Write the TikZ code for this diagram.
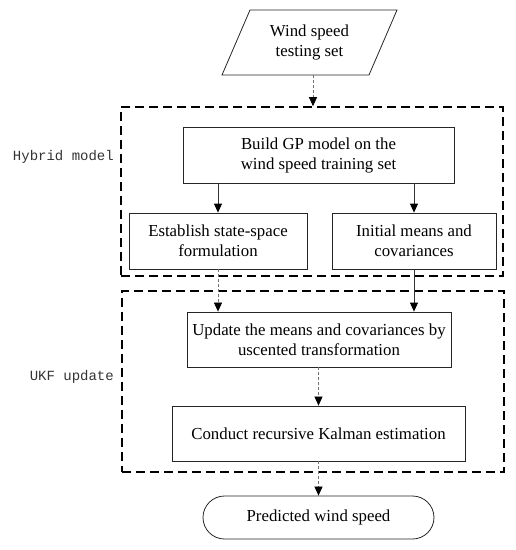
\documentclass[tikz,border=0pt]{standalone}
\usepackage{fontspec}
\setmainfont{Liberation Serif}
\newfontfamily\labfont{Liberation Mono}
\usetikzlibrary{arrows.meta}
\begin{document}
\begin{tikzpicture}[x=1pt,y=-1pt,
  box/.style={draw=black!85,line width=0.8pt,rectangle,align=center,inner sep=0pt,
    font=\fontsize{16.8}{20}\selectfont},
  frame/.style={draw=black,line width=1.6pt,dash pattern=on 9pt off 5pt,rectangle,inner sep=0pt},
  lab/.style={font=\labfont\fontsize{14}{16}\selectfont,anchor=east,inner sep=0pt,text=black!80},
  tip/.style={-{Triangle[length=9pt,width=8pt,color=black]}},
  dar/.style={tip,draw=black!55,line width=0.7pt,dash pattern=on 3pt off 2pt},
  sar/.style={tip,draw=black!80,line width=0.8pt}]
\useasboundingbox (0,0) rectangle (516,550);

\node[align=center,font=\fontsize{16.8}{20}\selectfont,inner sep=0pt,minimum height=65pt] (in) at (309.5,42.5) {Wind speed\\testing set};
\draw[black!85,line width=0.8pt] (250,10) -- (397,10) -- (369,75) -- (222,75) -- cycle;

\node[frame,minimum width=382pt,minimum height=169pt] (hyb) at (312,191.5) {};
\node[frame,minimum width=382pt,minimum height=181pt] (ukf) at (313,381.5) {};
\node[lab] (hl) at (114,157) {Hybrid model};
\node[lab] (ul) at (114,377) {UKF update};

\node[box,minimum width=271pt,minimum height=56pt] (gp) at (318.5,155) {Build GP model on the\\wind speed training set};
\node[box,minimum width=178pt,minimum height=56pt] (est) at (218,241) {Establish state-space\\formulation};
\node[box,minimum width=164pt,minimum height=56pt] (ini) at (414,241) {Initial means and\\covariances};
\node[box,minimum width=264pt,minimum height=55pt] (upd) at (319,339.5) {Update the means and covariances by\\uscented transformation};
\node[box,minimum width=293pt,minimum height=55pt] (con) at (318.5,433.5) {Conduct recursive Kalman estimation};
\node[box,minimum width=231pt,minimum height=43pt,rounded corners=21.5pt] (pred) at (318.5,517.5) {Predicted wind speed};

\draw[dar] (in.south -| 313,0) -- (313,0 |- hyb.north);
\draw[sar] (gp.south -| est) -- (est.north);
\draw[sar] (gp.south -| ini) -- (ini.north);
\draw[dar] (est.south) -- (est |- upd.north);
\draw[sar] (ini.south) -- (ini |- upd.north);
\draw[dar] (upd.south -| con) -- (con.north);
\draw[dar] (con.south) -- (pred.north);
\end{tikzpicture}
\end{document}
